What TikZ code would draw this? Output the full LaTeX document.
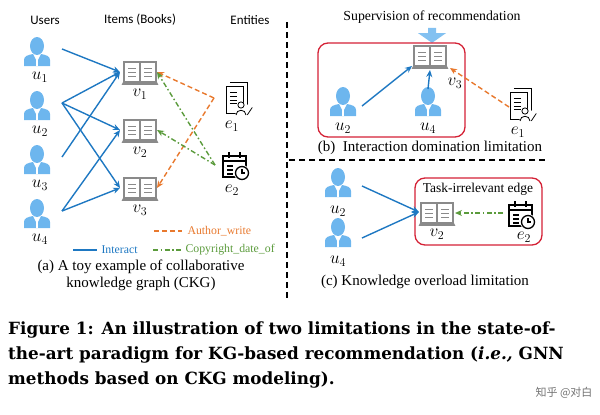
\documentclass[tikz,border=0pt]{standalone}
\usepackage{fontspec}
\setmainfont{Carlito}
\newfontfamily\capfont{Liberation Serif}
\newfontfamily\figfont{DejaVu Serif}
\newfontfamily\cjk{Noto Sans CJK SC}
\usetikzlibrary{arrows.meta,shapes.arrows}
\definecolor{ublue}{HTML}{6DB6EE}
\definecolor{eblue}{HTML}{1E78C2}
\definecolor{eor}{HTML}{E8792E}
\definecolor{egr}{HTML}{5B9B3C}
\definecolor{bred}{HTML}{D42135}
\definecolor{bgray}{HTML}{8A8A8A}
\tikzset{
 user/.pic={\fill[ublue] (0,-6) ellipse (7 and 9);
   \fill[ublue] (-13,14) -- (-13,8) .. controls (-13,4) and (-9,3) .. (-4,2) -- (0,10) -- (4,2) .. controls (9,3) and (13,4) .. (13,8) -- (13,14) -- cycle;
   \fill[white] (-1,6) rectangle (1,14);},
 book/.pic={\draw[bgray,line width=1.6pt] (-16,-10) rectangle (0,10) (0,-10) rectangle (16,10);
   \draw[bgray,line width=1.6pt] (-16,10) -- (-17,12) -- (17,12) -- (16,10);
   \foreach \y in {-4,0,4}{\draw[bgray,line width=1pt] (-12,\y) -- (-4,\y) (4,\y) -- (12,\y);}},
 doc/.pic={\begin{scope}[scale=1.25]\draw[line width=0.9pt] (-8,-11) rectangle (6,11); \draw[line width=0.9pt] (-5,-14) -- (9,-14) -- (9,8);
   \foreach \y in {-6,-3,0,3}{\draw[line width=0.7pt] (-5,\y) -- (1,\y);}
   \fill[white] (5,8) circle (6); \draw[line width=0.8pt] (4,4) circle (2.5) (0,12) .. controls (0,7) and (8,7) .. (8,12);
   \draw[line width=0.8pt] (9,12) -- (13,6);\end{scope}},
 cal/.pic={\draw[line width=1.3pt] (-13,-9) rectangle (10,12); \draw[line width=1.3pt] (-13,-4) -- (10,-4);
   \draw[line width=1.3pt] (-7,-13) -- (-7,-7) (4,-13) -- (4,-7);
   \draw[line width=1.1pt] (-9,1) -- (-3,1) (-9,5) -- (-3,5) (-9,9) -- (-3,9);
   \fill[white] (6,8) circle (8); \draw[line width=1.3pt] (6,8) circle (6.5); \draw[line width=1.1pt] (6,4) -- (6,8) -- (9,8);},
 lab/.style={font=\fontsize{17}{17}\selectfont},
 hd/.style={font=\fontsize{13}{13}\selectfont},
 capt/.style={font=\fontsize{15}{17}\selectfont\capfont, align=center},
 leg/.style={font=\fontsize{11.8}{12}\selectfont\capfont,anchor=west},
 ia/.style={eblue,line width=1.4pt,-{Stealth[length=7pt,width=6pt]}},
 aw/.style={eor,line width=1.4pt,dash pattern=on 5pt off 3pt,-{Stealth[length=7pt,width=6pt]}},
 cd/.style={egr,line width=1.4pt,dash pattern=on 5pt off 2.5pt on 1.5pt off 2.5pt,-{Stealth[length=7pt,width=6pt]}},
 box/.style={bred,line width=1.3pt,rounded corners=10pt},
}
\begin{document}
\begin{tikzpicture}[x=1pt,y=-1pt]
\useasboundingbox (0,0) rectangle (600,415);
\node[hd] (hu) at (45,20) {Users};
\node[hd] (hi) at (140,20) {Items (Books)};
\node[hd] (he) at (250,20) {Entities};
% users
\foreach \n/\y in {1/52,2/106,3/160,4/214}{
  \pic at (37,\y) {user};
  \node[lab] (lu\n) at (40,\y+25) {$u_\n$};
  \coordinate (u\n) at (62,\y-3);}
\foreach \n/\y in {1/72,2/130,3/188}{
  \pic at (140,\y) {book};
  \node[lab] (lv\n) at (140,\y+22) {$v_\n$};
  \coordinate (v\n) at (120,\y);
  \coordinate (w\n) at (157,\y);}
\pic at (236,100) {doc}; \node[lab] (le1) at (232,126) {$e_1$}; \coordinate (e1) at (214,98);
\pic at (236,165) {cal}; \node[lab] (le2) at (232,190) {$e_2$}; \coordinate (e2) at (215,165);
\draw[ia] (u1) -- (v1); \draw[ia] (u2) -- (v1); \draw[ia] (u2) -- (v2); \draw[ia] (u2) -- (v3);
\draw[ia] (u3) -- (v1); \draw[ia] (u4) -- (v2); \draw[ia] (u4) -- (v3);
\draw[aw] (e1) -- (w1); \draw[aw] (e1) -- (w3);
\draw[cd] (e2) -- (w1); \draw[cd] (e2) -- (w2);
% legend
\coordinate (la1) at (154,231); \coordinate (la2) at (182,231);
\draw[eor,line width=1.4pt,dash pattern=on 5pt off 3pt] (la1) -- (la2);
\node[leg,text=eor] (law) at (184,231) {Author\_write};
\coordinate (lb1) at (73,250); \coordinate (lb2) at (97,250);
\draw[eblue,line width=1.4pt] (lb1) -- (lb2);
\node[leg,text=eblue] (lia) at (98,250) {Interact};
\coordinate (lc1) at (153,250); \coordinate (lc2) at (181,250);
\draw[egr,line width=1.4pt,dash pattern=on 5pt off 2.5pt on 1.5pt off 2.5pt] (lc1) -- (lc2);
\node[leg,text=egr] (lcd) at (182,250) {Copyright\_date\_of};
\node[capt] (ca) at (141,275) {(a) A toy example of collaborative\\knowledge graph (CKG)};
% separators
\coordinate (s1) at (287,22); \coordinate (s2) at (287,300); \coordinate (s3) at (289,160); \coordinate (s4) at (545,160);
\draw[line width=1.2pt,dash pattern=on 6pt off 4pt] (s1) -- (s2);
\draw[line width=1.2pt,dash pattern=on 6pt off 4pt] (s3) -- (s4);
% panel b
\node[font=\fontsize{13.8}{14}\selectfont\capfont] (sup) at (432,17) {Supervision of recommendation};
\node[single arrow,shape border rotate=270,fill=ublue!85,minimum width=28pt,single arrow head extend=3pt,minimum height=15pt,inner sep=1pt,single arrow tip angle=110] (barr) at (432,34) {};
\draw[box] (318,43) rectangle (465,137);
\pic at (430,56) {book}; \coordinate (bv3) at (430,70); \coordinate (bv3l) at (412,66); \coordinate (bv3r) at (450,68);
\node[lab] (blv3) at (455,83) {$v_3$};
\pic at (343,102) {user}; \node[lab] (blu2) at (343,128) {$u_2$}; \coordinate (bu2) at (362,106);
\pic at (428,102) {user}; \node[lab] (blu4) at (428,128) {$u_4$}; \coordinate (bu4) at (428,89);
\pic at (520,106) {doc}; \node[lab] (ble1) at (518,132) {$e_1$}; \coordinate (be1) at (509,107);
\draw[ia] (bu2) -- (bv3l); \draw[ia] (bu4) -- (bv3); \draw[aw] (be1) -- (bv3r);
\node[capt] (cb) at (430,148) {(b)\ \ Interaction domination limitation};
% panel c
\pic at (338,183) {user}; \node[lab] (clu2) at (338,211) {$u_2$}; \coordinate (cu2) at (362,186);
\pic at (338,233) {user}; \node[lab] (clu4) at (338,261) {$u_4$}; \coordinate (cu4) at (362,238);
\draw[box] (415,178) rectangle (542,245);
\node[font=\fontsize{13.5}{14}\selectfont\capfont] (tie) at (478,189) {Task-irrelevant edge};
\pic at (437,213) {book}; \node[lab] (clv2) at (437,234) {$v_2$}; \coordinate (cv2) at (419,212); \coordinate (cv2r) at (455,213);
\pic at (522,214) {cal}; \node[lab] (cle2) at (524,237) {$e_2$}; \coordinate (ce2) at (503,213);
\draw[ia] (cu2) -- (cv2); \draw[ia] (cu4) -- (cv2); \draw[cd] (ce2) -- (cv2r);
\node[capt] (cc) at (425,282) {(c) Knowledge overload limitation};
% caption
\node[anchor=north west,align=left,font=\fontsize{16.8}{25}\selectfont\figfont\bfseries,inner sep=0pt] (fig) at (8,322)
 {Figure 1: An illustration of two limitations in the state-of-\\the-art paradigm for KG-based recommendation (\textit{i.e.,} GNN\\methods based on CKG modeling).};
\node[font=\fontsize{11}{11}\selectfont\cjk,text=black!55,anchor=east] (wm) at (596,393) {知乎 @对白};
\end{tikzpicture}
\end{document}
